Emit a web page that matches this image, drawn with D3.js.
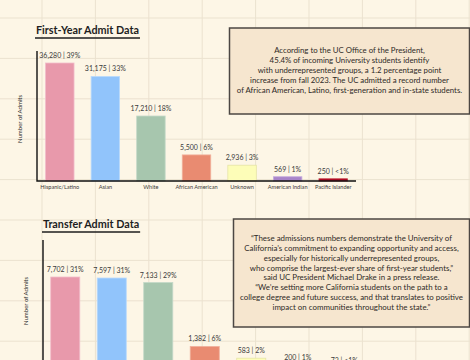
<!doctype html>
<html>
<head>
<meta charset="utf-8">
<script src="https://cdn.jsdelivr.net/npm/d3@7"></script>
<style>
  body { margin: 0; background: #fdf6e6; }
  svg { display: block; }
</style>
</head>
<body>
<svg id="chart" width="470" height="360"></svg>
<script>
// categories shared by both charts
const categories = ["Hispanic/Latino", "Asian", "White", "African American", "Unknown", "American Indian", "Pacific Islander"];
const colors = ["#e899ab", "#91c4fb", "#a7c6ae", "#e98b71", "#fdfdb8", "#a884c9", "#a8001d"];
const strokes = ["#f2bccb", "#b9dafc", "#c4d9c8", "#f1b09c", "#e6e4a6", "#c4a9dd", "#c0303f"];

// first-year admits
const firstYearCounts = [36280, 31175, 17210, 5500, 2936, 569, 250];
const firstYearPct = ["39%", "33%", "18%", "6%", "3%", "1%", "<1%"];

// transfer admits
const transferCounts = [7702, 7597, 7133, 1382, 583, 200, 73];
const transferPct = ["31%", "31%", "29%", "6%", "2%", "1%", "<1%"];

const quote1 = [
  "According to the UC Office of the President,",
  "45.4% of incoming University students identify",
  "with underrepresented groups, a 1.2 percentage point",
  "increase from fall 2023. The UC admitted a record number",
  "of African American, Latino, first-generation and in-state students."
];
const quote2 = [
  "\u201cThese admissions numbers demonstrate the University of",
  "California\u2019s commitment to expanding opportunity and access,",
  "especially for historically underrepresented groups,",
  "who comprise the largest-ever share of first-year students,\u201d",
  "said UC President Michael Drake in a press release.",
  "\u201cWe\u2019re setting more California students on the path to a",
  "college degree and future success, and that translates to positive",
  "impact on communities throughout the state.\u201d"
];

const svg = d3.select("#chart");
const W = 470, H = 360;

// background grid
const grid = svg.append("g").attr("stroke", "#ebe2cf").attr("stroke-width", 1);
d3.range(42, W, 53.4).forEach(x => {
  grid.append("line").attr("x1", x).attr("x2", x).attr("y1", 0).attr("y2", H);
});
d3.range(18, H, 40.4).forEach(y => {
  grid.append("line").attr("x1", 0).attr("x2", W).attr("y1", y).attr("y2", y);
});

function fmt(n) { return d3.format(",")(n); }

function drawChart(opts) {
  const g = svg.append("g");

  // title with underline
  const t = g.append("text")
    .attr("x", opts.titleX)
    .attr("y", opts.titleY)
    .attr("font-family", "Lato")
    .attr("font-weight", "bold")
    .attr("font-size", "10.8px")
    .attr("fill", "#1e1e1e")
    .text(opts.title);
  const tw = t.node().getComputedTextLength();
  g.append("line")
    .attr("x1", opts.titleX - 1).attr("x2", opts.titleX + tw + 1)
    .attr("y1", opts.titleY + 4).attr("y2", opts.titleY + 4)
    .attr("stroke", "#1e1e1e").attr("stroke-width", 1.3);

  const x = d3.scaleBand()
    .domain(categories)
    .range([opts.left, opts.right])
    .paddingInner(0.375)
    .paddingOuter(0.1875);

  const y = d3.scalePow().exponent(0.8)
    .domain([0, d3.max(opts.counts)])
    .range([opts.base, opts.maxTop]);

  g.selectAll("rect.bar")
    .data(opts.counts)
    .join("rect")
    .attr("class", "bar")
    .attr("x", (d, i) => x(categories[i]))
    .attr("width", x.bandwidth())
    .attr("y", d => y(d))
    .attr("height", d => opts.base - y(d))
    .attr("fill", (d, i) => colors[i])
    .attr("stroke", (d, i) => strokes[i])
    .attr("stroke-width", 0.8);

  g.selectAll("text.val")
    .data(opts.counts)
    .join("text")
    .attr("class", "val")
    .attr("x", (d, i) => x(categories[i]) + x.bandwidth() / 2)
    .attr("y", d => y(d) - 5)
    .attr("text-anchor", "middle")
    .attr("font-family", "Lato")
    .attr("font-size", "7px")
    .attr("fill", "#3a3a3a")
    .text((d, i) => fmt(d) + " | " + opts.pct[i]);

  g.selectAll("text.cat")
    .data(categories)
    .join("text")
    .attr("class", "cat")
    .attr("x", d => x(d) + x.bandwidth() / 2)
    .attr("y", opts.base + 8)
    .attr("text-anchor", "middle")
    .attr("font-family", "Lato")
    .attr("font-size", "5.6px")
    .attr("fill", "#3a3a3a")
    .text(d => d);

  // axes lines
  g.append("path")
    .attr("d", `M${opts.axisX},${opts.axisTop}V${opts.base}H${opts.right}`)
    .attr("fill", "none")
    .attr("stroke", "#111")
    .attr("stroke-width", 1.4);

  g.append("text")
    .attr("transform", `translate(${opts.labelX},${opts.labelY}) rotate(-90)`)
    .attr("text-anchor", "middle")
    .attr("font-family", "Lato")
    .attr("font-size", "6px")
    .attr("fill", "#2a2a2a")
    .text("Number of Admits");
}

drawChart({
  title: "First-Year Admit Data", titleX: 36, titleY: 34,
  counts: firstYearCounts, pct: firstYearPct,
  left: 37, right: 356, axisX: 37, axisTop: 51, base: 181, maxTop: 63,
  labelX: 22, labelY: 119
});

drawChart({
  title: "Transfer Admit Data", titleX: 43, titleY: 228,
  counts: transferCounts, pct: transferPct,
  left: 42, right: 367.5, axisX: 43, axisTop: 240, base: 370, maxTop: 277,
  labelX: 28, labelY: 301
});

function drawBox(lines, bx, by, bw, bh, firstY, lh, size, color) {
  const g = svg.append("g");
  g.append("rect")
    .attr("x", bx).attr("y", by).attr("width", bw).attr("height", bh)
    .attr("fill", "#f6e6cf")
    .attr("stroke", "#4c4743")
    .attr("stroke-width", 1.5);
  g.selectAll("text")
    .data(lines)
    .join("text")
    .attr("x", bx + bw / 2)
    .attr("y", (d, i) => firstY + i * lh)
    .attr("text-anchor", "middle")
    .attr("font-family", "Lato")
    .attr("font-size", size)
    .attr("fill", color)
    .text(d => d);
}

drawBox(quote1, 229.5, 28, 240, 86, 53, 10, "7.8px", "#2e2a27");
drawBox(quote2, 233.5, 219, 236, 108, 241, 9.85, "7.9px", "#2e2a27");
</script>
</body>
</html>
